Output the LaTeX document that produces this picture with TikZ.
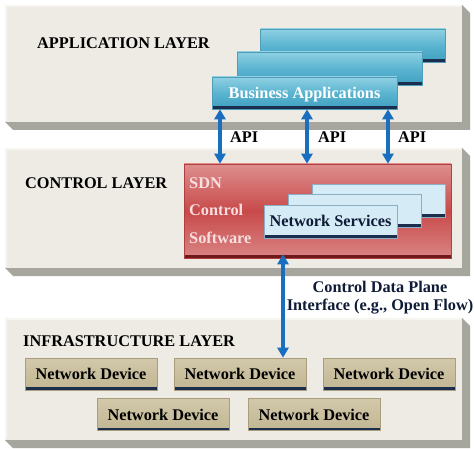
\documentclass[tikz,border=0pt]{standalone}
\usepackage{fontspec}
\setmainfont{Liberation Serif}
\usetikzlibrary{arrows.meta}
\definecolor{face}{HTML}{EDEBE3}
\definecolor{facehi}{HTML}{F6F5F0}
\definecolor{bevel}{HTML}{A6A69F}
\definecolor{busT}{HTML}{8FD0E3}
\definecolor{busM}{HTML}{5AB4D0}
\definecolor{busB}{HTML}{3F9FC0}
\definecolor{busE}{HTML}{4E9CB8}
\definecolor{navy}{HTML}{1C2E4E}
\definecolor{redT}{HTML}{DE8E8E}
\definecolor{redM}{HTML}{C84A4A}
\definecolor{redB}{HTML}{DA8484}
\definecolor{redE}{HTML}{B04040}
\definecolor{maroon}{HTML}{6E1A1A}
\definecolor{pinktext}{HTML}{F8DEDE}
\definecolor{nsfill}{HTML}{D5EBF6}
\definecolor{nsedge}{HTML}{8AAFC4}
\definecolor{tanT}{HTML}{D2C9AB}
\definecolor{tanB}{HTML}{C1B692}
\definecolor{tanE}{HTML}{A89E7E}
\definecolor{arrblue}{HTML}{1A6EC0}
\definecolor{txtnavy}{HTML}{0E1A36}
\newcommand\bevpanel[4]{%
  \fill[bevel] (#3,#2) -- (#3+8,#2+8) -- (#3+8,#4+8) -- (#1+8,#4+8) -- (#1,#4) -- (#3,#4) -- cycle;
  \fill[face] (#1,#2) rectangle (#3,#4);
  \draw[facehi,line width=2pt] (#1+1,#4-1) -- (#1+1,#2+1) -- (#3-1,#2+1);
}
\tikzset{
  lbl/.style={font=\fontsize{16.3}{18}\selectfont\bfseries, inner sep=0pt, text height=11pt, text depth=0pt},
  layer/.style={lbl, anchor=west, text=black},
  botline/.style={path picture={\fill[#1] ([yshift=3pt]path picture bounding box.south west) rectangle (path picture bounding box.south east);}},
  busbox/.style={lbl, minimum width=185pt, minimum height=33pt, top color=busT, bottom color=busB, middle color=busM, draw=busE, line width=0.6pt, text=white, botline=navy},
  sdnbox/.style={lbl, minimum width=267pt, minimum height=94pt, top color=redT, bottom color=redB, middle color=redM, draw=redE, line width=0.6pt, botline=maroon},
  nsbox/.style={lbl, minimum width=133pt, minimum height=33pt, fill=nsfill, draw=nsedge, line width=0.6pt, text=txtnavy, botline=navy},
  devbox/.style={lbl, minimum width=132pt, minimum height=32pt, top color=tanT, bottom color=tanB, draw=tanE, line width=0.6pt, text=black, botline=navy},
  blueline/.style={draw=arrblue, line width=3.6pt},
  dblarrow/.style={blueline, {Triangle[width=11pt,length=10pt]}-{Triangle[width=11pt,length=10pt]}},
  sdntext/.style={lbl, anchor=west, text=pinktext},
}
\begin{document}
\begin{tikzpicture}[x=1pt,y=-1pt]
\fill[white] (0,0) rectangle (474,449);
\useasboundingbox (0,0) rectangle (474,449);

% panels
\bevpanel{5}{5}{462}{122}
\bevpanel{5}{148}{462}{268}
\bevpanel{5}{318}{462}{440}

% application layer
\node[layer] (applbl) at (37,43) {APPLICATION LAYER};
\node[busbox] (bus3) at (353,45.5) {};
\node[busbox] (bus2) at (329.5,68.5) {};
\node[busbox, minimum height=32pt] (bus) at (304.5,93) {Business Applications};

% control layer
\node[layer] (ctllbl) at (25,183) {CONTROL LAYER};
\node[sdnbox] (sdn) at (317.5,211) {};
\node[sdntext] (sdn1) at (189,183) {SDN};
\node[sdntext] (sdn2) at (189,210.5) {Control};
\node[sdntext] (sdn3) at (189,238) {Software};
\node[nsbox] (ns3) at (378.5,200.5) {};
\node[nsbox] (ns2) at (355,210.5) {};
\node[nsbox] (ns) at (330.5,221.5) {Network Services};

% API arrows
\coordinate (a1) at (220,0);
\coordinate (a2) at (307,0);
\coordinate (a3) at (388,0);
\draw[dblarrow] (bus.south -| a1) -- (sdn.north -| a1);
\draw[dblarrow] (bus.south -| a2) -- (sdn.north -| a2);
\draw[dblarrow] (bus.south -| a3) -- (sdn.north -| a3);
\node[lbl, anchor=west] (api1) at (230,137) {API};
\node[lbl, anchor=west] (api2) at (318,137) {API};
\node[lbl, anchor=west] (api3) at (398,137) {API};

% infrastructure layer
\node[layer] (inflbl) at (23,341) {INFRASTRUCTURE LAYER};
\node[devbox] (nd1) at (91,374) {Network Device};
\node[devbox] (nd2) at (240,374) {Network Device};
\node[devbox] (nd3) at (389,374) {Network Device};
\node[devbox] (nd4) at (163,414.5) {Network Device};
\node[devbox] (nd5) at (314,414.5) {Network Device};

% control data plane interface
\coordinate (cx) at (283,0);
\draw[dblarrow] ([yshift=4pt]sdn.south -| cx) -- (nd2.north -| cx);
\node[lbl, text=txtnavy] (cdp1) at (380,287) {Control Data Plane};
\node[lbl, text=txtnavy] (cdp2) at (380,305) {Interface (e.g., Open Flow)};
\end{tikzpicture}
\end{document}
